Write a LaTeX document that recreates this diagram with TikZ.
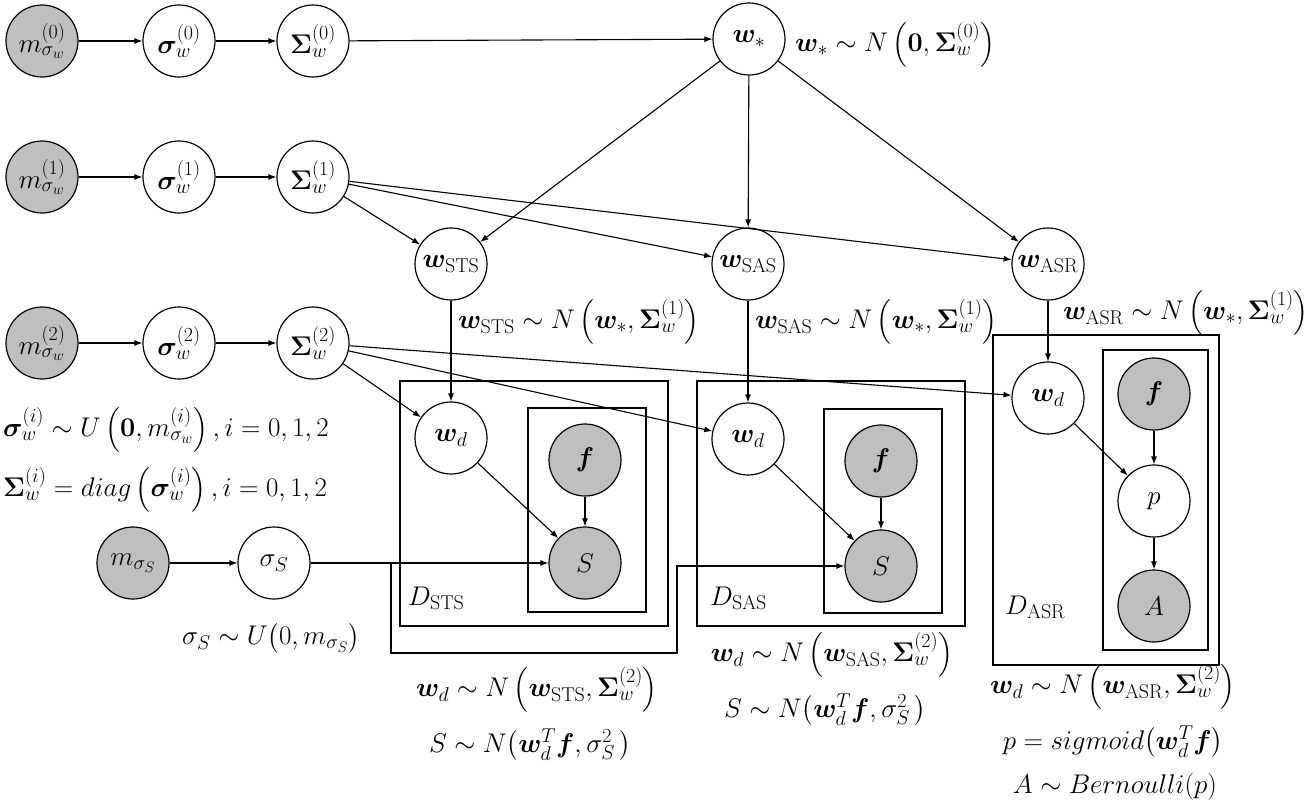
\RequirePackage{fix-cm}
\documentclass[tikz,border=0pt]{standalone}
\usepackage{amsmath,bm}
\DeclareMathSizes{27}{27}{20}{15}
\usetikzlibrary{arrows.meta}
\begin{document}
\begin{tikzpicture}[x=1pt,y=-1pt,
  every node/.style={font=\fontsize{27}{32}\selectfont},
  var/.style={draw, circle, minimum size=72pt, inner sep=0pt, line width=1.2pt, fill=white},
  obs/.style={var, fill=black!25},
  arr/.style={-{Latex[length=8pt,width=6pt]}, line width=1.1pt},
  plate/.style={draw, line width=1.4pt},
  eq/.style={inner sep=0pt}]
\useasboundingbox (0,0) rectangle (1310,804);

% plates
\draw[plate] (400,381) rectangle (668,626);
\draw[plate] (528,408) rectangle (646,612);
\draw[plate] (697,381) rectangle (965,626);
\draw[plate] (824,409) rectangle (942,613);
\draw[plate] (993,335) rectangle (1219,665);
\draw[plate] (1103,350) rectangle (1208,650);

% hyperparameter rows
\node[obs] (m0) at (42,41) {$m^{(0)}_{\sigma_w}$};
\node[var] (s0) at (179,41) {$\bm{\sigma}^{(0)}_w$};
\node[var] (Sg0) at (313,41) {$\bm{\Sigma}^{(0)}_w$};
\node[obs] (m1) at (42,177) {$m^{(1)}_{\sigma_w}$};
\node[var] (s1) at (179,177) {$\bm{\sigma}^{(1)}_w$};
\node[var] (Sg1) at (313,177) {$\bm{\Sigma}^{(1)}_w$};
\node[obs] (m2) at (42,343) {$m^{(2)}_{\sigma_w}$};
\node[var] (s2) at (179,343) {$\bm{\sigma}^{(2)}_w$};
\node[var] (Sg2) at (313,343) {$\bm{\Sigma}^{(2)}_w$};

\node[var] (wstar) at (749,39) {$\bm{w}_*$};
\node[var] (wSTS) at (451,264) {$\bm{w}_{\mathrm{STS}}$};
\node[var] (wSAS) at (748,264) {$\bm{w}_{\mathrm{SAS}}$};
\node[var] (wASR) at (1048,264) {$\bm{w}_{\mathrm{ASR}}$};

% STS plate
\node[var] (wd1) at (451,438) {$\bm{w}_d$};
\node[obs] (f1) at (585,460) {$\bm{f}$};
\node[obs] (obsS1) at (585,563) {$S$};
% SAS plate
\node[var] (wd2) at (748,439) {$\bm{w}_d$};
\node[obs] (f2) at (881,461) {$\bm{f}$};
\node[obs] (obsS2) at (881,566) {$S$};
% ASR plate
\node[var] (wd3) at (1048,398) {$\bm{w}_d$};
\node[obs] (f3) at (1154,394) {$\bm{f}$};
\node[var] (p) at (1154,501) {$p$};
\node[obs] (A) at (1154,606) {$A$};

% noise
\node[obs] (msS) at (133,563) {$m_{\sigma_S}$};
\node[var] (sS) at (274,563) {$\sigma_S$};
\coordinate (b1) at (391,563);
\coordinate (b2) at (677,653);

% edges
\draw[arr] (m0) -- (s0);
\draw[arr] (s0) -- (Sg0);
\draw[arr] (Sg0) -- (wstar);
\draw[arr] (m1) -- (s1);
\draw[arr] (s1) -- (Sg1);
\draw[arr] (m2) -- (s2);
\draw[arr] (s2) -- (Sg2);
\draw[arr] (wstar) -- (wSTS);
\draw[arr] (wstar) -- (wSAS);
\draw[arr] (wstar) -- (wASR);
\draw[arr] (Sg1) -- (wSTS);
\draw[arr] (Sg1) -- (wSAS);
\draw[arr] (Sg1) -- (wASR);
\draw[arr] (wSTS) -- (wd1);
\draw[arr] (wSAS) -- (wd2);
\draw[arr] (wASR) -- (wd3);
\draw[arr] (Sg2) -- (wd1);
\draw[arr] (Sg2) -- (wd2);
\draw[arr] (Sg2) -- (wd3);
\draw[arr] (wd1) -- (obsS1);
\draw[arr] (f1) -- (obsS1);
\draw[arr] (wd2) -- (obsS2);
\draw[arr] (f2) -- (obsS2);
\draw[arr] (wd3) -- (p);
\draw[arr] (f3) -- (p);
\draw[arr] (p) -- (A);
\draw[arr] (msS) -- (sS);
\draw[arr] (sS) -- (obsS1);
\draw[arr] (b1) |- (b2) |- (obsS2.west);

% plate labels
\node[eq, anchor=west] (DSTS) at (408,598) {$D_{\mathrm{STS}}$};
\node[eq, anchor=west] (DSAS) at (710,598) {$D_{\mathrm{SAS}}$};
\node[eq, anchor=west] (DASR) at (1005,607) {$D_{\mathrm{ASR}}$};

% equations
\node[eq, anchor=west] (e0) at (795,45) {$\bm{w}_* \sim N\left(\bm{0},\bm{\Sigma}^{(0)}_w\right)$};
\node[eq, anchor=west] (e1) at (458,322) {$\bm{w}_{\mathrm{STS}} \sim N\left(\bm{w}_*,\bm{\Sigma}^{(1)}_w\right)$};
\node[eq, anchor=west] (e2) at (755,322) {$\bm{w}_{\mathrm{SAS}} \sim N\left(\bm{w}_*,\bm{\Sigma}^{(1)}_w\right)$};
\node[eq, anchor=west] (e3) at (1063,313) {$\bm{w}_{\mathrm{ASR}} \sim N\left(\bm{w}_*,\bm{\Sigma}^{(1)}_w\right)$};
\node[eq, anchor=west] (e4) at (3,430) {$\bm{\sigma}^{(i)}_w \sim U\left(\bm{0},m^{(i)}_{\sigma_w}\right), i=0,1,2$};
\node[eq, anchor=west] (e5) at (3,490) {$\bm{\Sigma}^{(i)}_w = diag\left(\bm{\sigma}^{(i)}_w\right), i=0,1,2$};
\node[eq] (e6) at (271,638) {$\sigma_S \sim U\bigl(0,m_{\sigma_S}\bigr)$};
\node[eq] (e7) at (537,690) {$\bm{w}_d \sim N\left(\bm{w}_{\mathrm{STS}},\bm{\Sigma}^{(2)}_w\right)$};
\node[eq] (e8) at (530,745) {$S \sim N\bigl(\bm{w}_d^T\bm{f},\sigma_S^2\,\bigr)$};
\node[eq] (e9) at (832,655) {$\bm{w}_d \sim N\left(\bm{w}_{\mathrm{SAS}},\bm{\Sigma}^{(2)}_w\right)$};
\node[eq] (e10) at (825,710) {$S \sim N\bigl(\bm{w}_d^T\bm{f},\sigma_S^2\,\bigr)$};
\node[eq] (e11) at (1113,687) {$\bm{w}_d \sim N\left(\bm{w}_{\mathrm{ASR}},\bm{\Sigma}^{(2)}_w\right)$};
\node[eq] (e12) at (1113,742) {$p = sigmoid\bigl(\bm{w}_d^T\bm{f}\bigr)$};
\node[eq] (e13) at (1115,787) {$A \sim Bernoulli(p)$};
\end{tikzpicture}
\end{document}
